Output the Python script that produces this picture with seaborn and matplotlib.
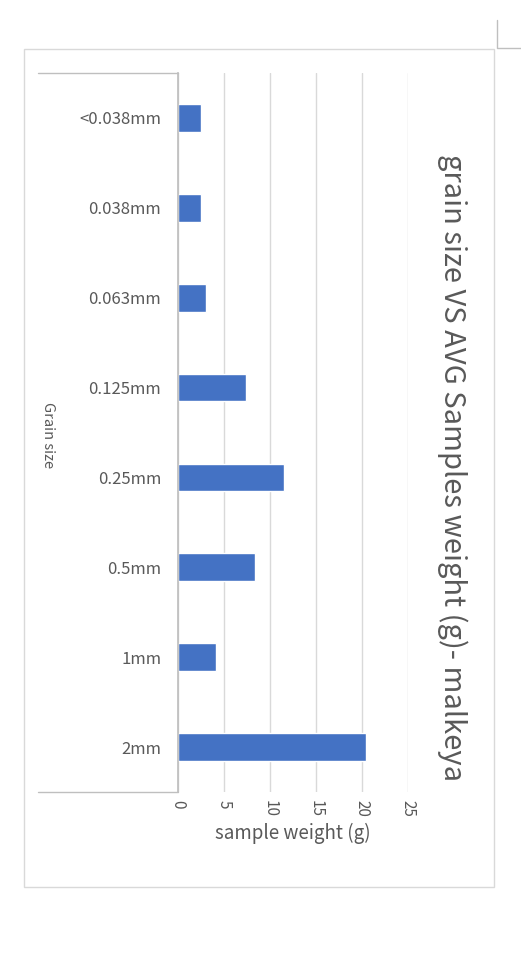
import matplotlib
matplotlib.use("Agg")
import matplotlib.pyplot as plt
import seaborn as sns
import pandas as pd
from matplotlib.lines import Line2D
from matplotlib.patches import Rectangle

categories = ["<0.038mm", "0.038mm", "0.063mm", "0.125mm", "0.25mm", "0.5mm", "1mm", "2mm"]
weights = [2.5, 2.5, 3.0, 7.4, 11.5, 8.4, 4.1, 20.4]
xticks = [0, 5, 10, 15, 20, 25]

sns.set_theme(style="white")
plt.rcParams['font.family'] = ['Noto Sans CJK SC', 'DejaVu Sans']
grey = "#595959"

fig = plt.figure(figsize=(5.21, 9.72), dpi=100)
ax = fig.add_axes([178/521, 1-792/972, 230/521, 719/972])
df = pd.DataFrame({"cat": categories, "w": weights})
sns.barplot(data=df, y="cat", x="w", color="#4472C4", width=0.31, ax=ax, orient="h", saturation=1)
ax.set_xlim(0, 25)
ax.set_xticks(xticks)
ax.set_xticklabels([str(t) for t in xticks], rotation=-90, color=grey, fontsize=11)
ax.tick_params(axis='y', labelsize=12, labelcolor=grey, length=0, pad=12)
ax.tick_params(axis='x', length=0, pad=6)
ax.grid(axis='x', color="#d9d9d9", linewidth=1)
ax.set_axisbelow(True)
for s in ["top", "right", "bottom"]:
    ax.spines[s].set_visible(False)
ax.spines["left"].set_color("#bfbfbf")
ax.set_xlabel("sample weight (g)", color=grey, fontsize=13.5, labelpad=4)
ax.set_ylabel("")

for yy in [73, 792]:
    fig.add_artist(Line2D([38/521, 178/521], [1-yy/972]*2, color="#bfbfbf", lw=1))
fig.add_artist(Rectangle((24/521, 1-887/972), 470/521, 838/972, fill=False, ec="#d9d9d9", lw=1))
fig.add_artist(Line2D([497/521, 497/521, 521/521], [1-20/972, 1-48/972, 1-48/972], color="#bfbfbf", lw=1))

fig.text(48/521, 1-435/972, "Grain size", rotation=-90, color=grey, fontsize=10.5, ha="center", va="center")
fig.text(452/521, 1-468/972, "grain size VS AVG Samples weight (g)- malkeya", rotation=-90,
         color=grey, fontsize=21, ha="center", va="center")
fig.savefig("out.png", dpi=100)
